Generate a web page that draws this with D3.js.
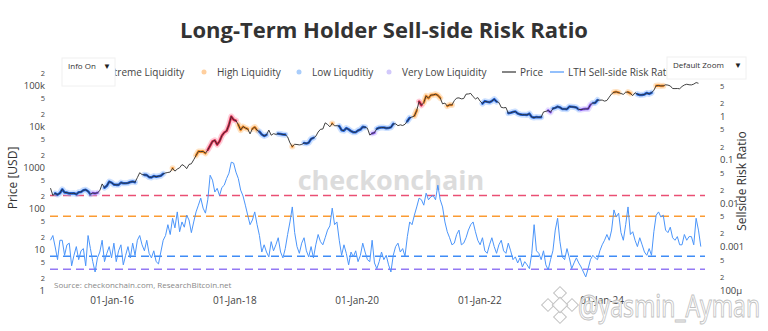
<!DOCTYPE html>
<html>
<head>
<meta charset="utf-8">
<script src="https://cdn.jsdelivr.net/npm/d3@7/dist/d3.min.js"></script>
<style>
  body { margin:0; background:#fff; }
  svg { display:block; font-family:"Open Sans", sans-serif; }
</style>
</head>
<body>
<svg id="chart" width="768" height="331"></svg>
<script>
// fortnightly samples, starting 1 Jan 2015
var startDate = new Date(Date.UTC(2015, 0, 1)),
    stepDays = 14;

// BTC price [USD]
var price = [
  315, 210, 235, 220, 237, 295, 248, 245, 235, 235, 237, 225, 250, 255, 280, 288, 265, 225, 240, 235, 243, 275, 400, 325, 360, 455,
  430, 385, 380, 380, 430, 415, 415, 420, 445, 455, 440, 570, 750, 675, 665, 655, 585, 575, 620, 600, 615, 630, 705, 740, 760, 780, 960,
  820, 920, 990, 1180, 1100, 940, 1190, 1240, 1550, 1970, 2480, 2450, 2480, 2230, 2700, 3420, 4350, 4610, 3630, 4370, 5990, 7150, 7790, 10900, 17600, 14600,
  13900, 11100, 8200, 10000, 9200, 8700, 6630, 8850, 9700, 8100, 7500, 6400, 5900, 6250, 8200, 6150, 6700, 6450, 6700, 6580, 6400, 6350, 5600, 4000, 3250, 3700,
  3650, 3570, 3650, 3980, 3880, 4050, 5000, 5300, 5780, 7360, 8550, 8700, 12300, 11300, 9850, 11900, 10400, 10500, 10200, 8150, 7950, 9150, 8500, 7750, 7250, 7250,
  8050, 8450, 9800, 9650, 9100, 6200, 6800, 7100, 8850, 9300, 9450, 9450, 9150, 9250, 9550, 11600, 11650, 10500, 11000, 10600, 11350, 13550, 16300, 17100, 18050, 24700,
  40600, 33000, 38300, 55900, 48900, 58300, 59000, 61300, 57700, 49700, 35700, 37300, 31600, 33800, 33600, 42800, 49300, 49900, 47300, 48100, 61500, 62200, 64100, 53600, 47100, 50800,
  41600, 36300, 41500, 40000, 39100, 41800, 46300, 40500, 38600, 29300, 28600, 29100, 21200, 21600, 22700, 23200, 20800, 19800, 19400, 19400, 19200, 20600, 17000, 16500, 17100, 16800,
  16950, 22700, 23400, 24600, 22350, 27400, 28500, 30500, 29300, 26800, 26700, 26500, 30700, 30300, 29900, 29100, 26100, 25800, 26600, 26900, 26850, 34100, 37300, 37700, 44200, 43900,
  44200, 41600, 43200, 52100, 62400, 68400, 69900, 67100, 63800, 60800, 68500, 69300, 64100, 56700, 66700, 61400, 58900, 59100, 60500, 65800, 62400, 66600, 76500, 98900, 99800, 97700,
  98100, 104100, 102400, 97500, 84400, 84000, 84400, 83400, 94700, 102900, 107300, 104300, 103300, 108200, 117900, 113300
];

// liquidity regime for each price sample: x extreme, h high, l low, v very low, n none
var zoneCodes = [
  "nn", "llllllllllllllll", "vvv", "nn", "llllllllllllll", "nnn", "lllllllll", "nnn", "h", "nnnnnnnnn",
  "hhhhh", "xxxxxxxxxxxxx", "hhhhh", "n", "hhh", "llll", "nnnn", "llll", "nn", "h", "nnnn", "lllll",
  "nnnnnnn", "h", "nn", "llllllllllll", "nn", "vv", "llllllll", "nnnnn", "ll", "n", "hh", "xx",
  "hhhhhhhh", "nn", "hhh", "nnnnnnnnnnnn", "lllllll", "nnnn", "lllllllllllllll", "nn", "vv",
  "llllllllllll", "vvvvv", "lll", "nnnnnn", "hhh", "nnn", "hh", "nn", "lllllll", "n", "hhhh",
  "nnnnnnnnnnnnnnn"
].join("");

// LTH sell-side risk ratio
var riskRatio = [
  0.0014, 0.0018, 0.00098, 0.0005, 0.0014, 0.0014, 0.00063, 0.0011, 0.0012, 0.00036, 0.00063, 0.001, 0.0005, 0.0008, 0.0009, 0.00036, 0.0018, 0.0009, 0.00045, 0.00026,
  0.00055, 0.00075, 0.0014, 0.00045, 0.0007, 0.001, 0.00055, 0.0012, 0.00045, 0.0008, 0.0011, 0.00038, 0.00063, 0.001, 0.00055, 0.0012, 0.00063, 0.0014, 0.0018, 0.0011,
  0.0008, 0.0014, 0.0007, 0.00055, 0.0008, 0.00045, 0.0004, 0.00075, 0.0014, 0.0018, 0.0032, 0.0019, 0.0045, 0.0027, 0.0063, 0.0022, 0.0037, 0.0028, 0.0053, 0.0041,
  0.0021, 0.0037, 0.0063, 0.009, 0.0131, 0.0077, 0.0059, 0.012, 0.044, 0.034, 0.0181, 0.022, 0.015, 0.023, 0.026, 0.037, 0.049, 0.088, 0.084, 0.052,
  0.037, 0.020, 0.0147, 0.009, 0.0053, 0.0032, 0.0041, 0.0063, 0.0032, 0.0018, 0.00075, 0.0011, 0.00075, 0.00058, 0.0013, 0.0008, 0.0011, 0.0016, 0.00075, 0.00055,
  0.0009, 0.0019, 0.0037, 0.0082, 0.0021, 0.001, 0.0007, 0.0012, 0.0016, 0.0008, 0.00058, 0.001, 0.00055, 0.0011, 0.0019, 0.0013, 0.0011, 0.0016, 0.0024, 0.003,
  0.0077, 0.0032, 0.0037, 0.0014, 0.00063, 0.0011, 0.0007, 0.00038, 0.00075, 0.00058, 0.0008, 0.00045, 0.00063, 0.0012, 0.00075, 0.0005, 0.00045, 0.0014, 0.00042, 0.00031,
  0.00045, 0.00075, 0.0005, 0.00063, 0.00038, 0.00026, 0.00063, 0.001, 0.0012, 0.00075, 0.0009, 0.0006, 0.0017, 0.0037, 0.0032, 0.0053, 0.0082, 0.0131, 0.012, 0.009,
  0.017, 0.012, 0.014, 0.015, 0.012, 0.026, 0.012, 0.0082, 0.0037, 0.0022, 0.0016, 0.0011, 0.0012, 0.0019, 0.0024, 0.0011, 0.0012, 0.0016, 0.0024, 0.0032,
  0.0037, 0.0022, 0.0014, 0.0011, 0.0016, 0.0008, 0.0007, 0.0011, 0.0016, 0.001, 0.0007, 0.0011, 0.0014, 0.0008, 0.0007, 0.0012, 0.0008, 0.0005, 0.00058, 0.00042,
  0.00055, 0.00034, 0.00045, 0.00038, 0.00031, 0.0007, 0.0032, 0.0008, 0.0007, 0.0005, 0.0008, 0.00038, 0.00029, 0.0005, 0.0008, 0.0024, 0.0045, 0.0013, 0.00058, 0.0005,
  0.0009, 0.00055, 0.00031, 0.00042, 0.00055, 0.00042, 0.00034, 0.00026, 0.0002, 0.00031, 0.0005, 0.00063, 0.00055, 0.0005, 0.0008, 0.0011, 0.0014, 0.0019, 0.0014, 0.0024,
  0.007, 0.0048, 0.0059, 0.0021, 0.0014, 0.0032, 0.0082, 0.0019, 0.0022, 0.0014, 0.001, 0.0016, 0.0011, 0.00075, 0.00063, 0.0009, 0.00063, 0.0022, 0.0053, 0.0063,
  0.0048, 0.0053, 0.0024, 0.0021, 0.0028, 0.0016, 0.0014, 0.0017, 0.0011, 0.0011, 0.0019, 0.0014, 0.0017, 0.0017, 0.0011, 0.0045, 0.0024, 0.001
];

// threshold bands on the risk ratio axis
var bandValues = [0.015, 0.005, 0.0006, 0.0003];
var bandColors = ["#ea4f74", "#fb9b33", "#3f8cf6", "#9479f4"];

var legendNames = ["Extreme Liquidity", "High Liquidity", "Low Liquditiy", "Very Low Liquidity", "Price", "LTH Sell-side Risk Ratio"];

var zoneStyle = {
  x: {core: "#e32d52", halo: "#ff8ea6"},
  h: {core: "#f7912c", halo: "#ffc27c"},
  l: {core: "#2262d8", halo: "#8dbbff"},
  v: {core: "#8a5cf3", halo: "#c6b4ff"}
};

var svg = d3.select("#chart");

var x = d3.scaleUtc()
    .domain([new Date(Date.UTC(2015, 0, 1)), new Date(Date.UTC(2024, 0, 1))])
    .range([50.5, 601.7]);

var yPrice = d3.scaleLog().domain([1, 1e5]).range([290.7, 85.5]);
var yRisk = d3.scaleLog().domain([1e-4, 1]).range([290, 116.4]);

function sampleDate(i) { return d3.utcDay.offset(startDate, i * stepDays); }

// title
svg.append("text")
    .attr("x", 384).attr("y", 38)
    .attr("text-anchor", "middle")
    .attr("font-size", 22).attr("font-weight", "bold")
    .attr("fill", "#333")
    .text("Long-Term Holder Sell-side Risk Ratio");

// faint watermark behind the series
svg.append("text")
    .attr("x", 391).attr("y", 190)
    .attr("text-anchor", "middle")
    .attr("font-size", 27).attr("font-weight", "bold")
    .attr("fill", "#dcdcdc")
    .text("checkonchain");

// band lines
svg.append("g").selectAll("line")
  .data(bandValues)
  .enter().append("line")
    .attr("x1", 50).attr("x2", 705)
    .attr("y1", function(d) { return yRisk(d); })
    .attr("y2", function(d) { return yRisk(d); })
    .attr("stroke", function(d, i) { return bandColors[i]; })
    .attr("stroke-width", 1.5)
    .attr("stroke-dasharray", "8,5");

// risk ratio line
var riskLine = d3.line()
    .x(function(d, i) { return x(sampleDate(i)); })
    .y(function(d) { return yRisk(d); });

svg.append("path")
    .datum(riskRatio)
    .attr("d", riskLine)
    .attr("fill", "none")
    .attr("stroke", "#4b95fa")
    .attr("stroke-width", 1)
    .attr("stroke-linejoin", "round");

// price with coloured regime markers
var priceLine = d3.line()
    .x(function(d, i) { return x(sampleDate(i)); })
    .y(function(d) { return yPrice(d); });

var zones = ["h", "x", "l", "v"];
zones.forEach(function(z) {
  var seg = d3.line()
      .defined(function(d, i) { return zoneCodes[i] === z; })
      .x(function(d, i) { return x(sampleDate(i)); })
      .y(function(d) { return yPrice(d); });
  svg.append("path")
      .datum(price)
      .attr("d", seg)
      .attr("fill", "none")
      .attr("stroke", zoneStyle[z].halo)
      .attr("stroke-opacity", 0.45)
      .attr("stroke-width", 6)
      .attr("stroke-linecap", "round")
      .attr("stroke-linejoin", "round");
  svg.append("path")
      .datum(price)
      .attr("d", seg)
      .attr("fill", "none")
      .attr("stroke", zoneStyle[z].core)
      .attr("stroke-width", 2.6)
      .attr("stroke-linecap", "round")
      .attr("stroke-linejoin", "round");
});

svg.append("path")
    .datum(price)
    .attr("d", priceLine)
    .attr("fill", "none")
    .attr("stroke", "#2b2b2b")
    .attr("stroke-width", 0.9)
    .attr("stroke-linejoin", "round");

// axes
function isMajor(v) { return Math.abs(Math.log10(v) - Math.round(Math.log10(v))) < 1e-9; }

var priceTicks = [];
[1, 10, 100, 1000, 1e4, 1e5].forEach(function(p) { priceTicks.push(p, 2 * p, 5 * p); });
priceTicks = priceTicks.filter(function(v) { return v <= 2e5; });

var riskTicks = [];
[1e-4, 1e-3, 1e-2, 1e-1, 1, 10].forEach(function(p) { riskTicks.push(p, 2 * p, 5 * p); });
riskTicks = riskTicks.filter(function(v) { return v <= 10; });

var gLeft = svg.append("g")
    .attr("transform", "translate(47,0)")
    .call(d3.axisLeft(yPrice)
      .tickValues(priceTicks)
      .tickSize(0)
      .tickPadding(2)
      .tickFormat(function(v) {
        if (!isMajor(v)) return String(Math.round(v / Math.pow(10, Math.floor(Math.log10(v) + 1e-9))));
        return v >= 1e4 ? (v / 1000) + "k" : String(v);
      }));
gLeft.select(".domain").remove();

var gRight = svg.append("g")
    .attr("transform", "translate(718,0)")
    .call(d3.axisRight(yRisk)
      .tickValues(riskTicks)
      .tickSize(0)
      .tickPadding(2)
      .tickFormat(function(v) {
        if (!isMajor(v)) return String(Math.round(v / Math.pow(10, Math.floor(Math.log10(v) + 1e-9))));
        if (v === 1e-4) return "100\u03bc";
        return d3.format("~g")(v);
      }));
gRight.select(".domain").remove();

[gLeft, gRight].forEach(function(g) {
  g.selectAll("text")
    .attr("font-family", "Open Sans, sans-serif")
    .attr("fill", "#444")
    .attr("font-size", function(v) { return isMajor(v) ? 9.5 : 7.5; });
});

var gBottom = svg.append("g")
    .attr("transform", "translate(0,297)")
    .call(d3.axisBottom(x)
      .tickValues([2016, 2018, 2020, 2022, 2024].map(function(y) { return new Date(Date.UTC(y, 0, 1)); }))
      .tickSize(0)
      .tickPadding(0)
      .tickFormat(d3.utcFormat("%d-%b-%y")));
gBottom.select(".domain").remove();
gBottom.selectAll("text")
    .attr("font-family", "Open Sans, sans-serif")
    .attr("font-size", 10)
    .attr("fill", "#444");

// axis titles
svg.append("text")
    .attr("transform", "translate(17,178) rotate(-90)")
    .attr("text-anchor", "middle")
    .attr("font-size", 12).attr("fill", "#333")
    .text("Price [USD]");

svg.append("text")
    .attr("transform", "translate(746,181) rotate(-90)")
    .attr("text-anchor", "middle")
    .attr("font-size", 12).attr("fill", "#333")
    .text("Sellside Risk Ratio");

// source note
svg.append("text")
    .attr("x", 54).attr("y", 288)
    .attr("font-size", 8).attr("fill", "#888")
    .text("Source: checkonchain.com, ResearchBitcoin.net");

// legend
var legendX = [90, 204, 299, 389, 509, 557];
var legendDot = ["#ffb3c2", "#ffcf9e", "#a9cdfb", "#d2c9fb"];
var legend = svg.append("g").attr("transform", "translate(0,72)");
legendNames.forEach(function(name, i) {
  var cx = legendX[i];
  if (i < 4) {
    legend.append("circle").attr("cx", cx).attr("cy", 0).attr("r", 2.5).attr("fill", legendDot[i]);
  } else {
    legend.append("line")
        .attr("x1", cx - 7).attr("x2", cx + 7)
        .attr("stroke", i === 4 ? "#333" : "#4b95fa").attr("stroke-width", 1.2);
  }
  legend.append("text")
      .attr("x", cx + (i < 4 ? 13 : 11)).attr("y", 3.5)
      .attr("font-size", 10).attr("fill", "#444")
      .text(name);
});

// dropdown buttons
function dropdown(x0, y0, w, h, label) {
  var g = svg.append("g").attr("transform", "translate(" + x0 + "," + y0 + ")");
  g.append("rect").attr("width", w).attr("height", h)
      .attr("fill", "#fff").attr("stroke", "#f0f0f0");
  g.append("text").attr("x", 6).attr("y", 10.5)
      .attr("font-size", 8).attr("fill", "#333").text(label);
  g.append("text").attr("x", w - 8).attr("y", 10.5)
      .attr("font-size", 8).attr("fill", "#222").attr("text-anchor", "middle").text("\u25bc");
}
dropdown(62, 58, 53, 28, "Info On");
dropdown(667, 57, 79, 22, "Default Zoom");

// reposter's mark
var mark = svg.append("g").attr("fill", "#fff").attr("fill-opacity", 0.8)
    .attr("stroke", "#c2c2c2").attr("stroke-width", 1);
[[560, 293, 4.5], [548, 305, 4.5], [572, 305, 4.5], [560, 317, 4.5], [560, 305, 5.5]].forEach(function(d) {
  mark.append("rect")
      .attr("x", d[0] - d[2]).attr("y", d[1] - d[2])
      .attr("width", d[2] * 2).attr("height", d[2] * 2)
      .attr("transform", "rotate(45," + d[0] + "," + d[1] + ")");
});
mark.append("text")
    .attr("x", 578).attr("y", 317)
    .attr("font-size", 30).attr("font-family", "Noto Sans, sans-serif")
    .attr("textLength", 182).attr("lengthAdjust", "spacingAndGlyphs")
    .text("@yasmin_Ayman");
</script>
</body>
</html>
